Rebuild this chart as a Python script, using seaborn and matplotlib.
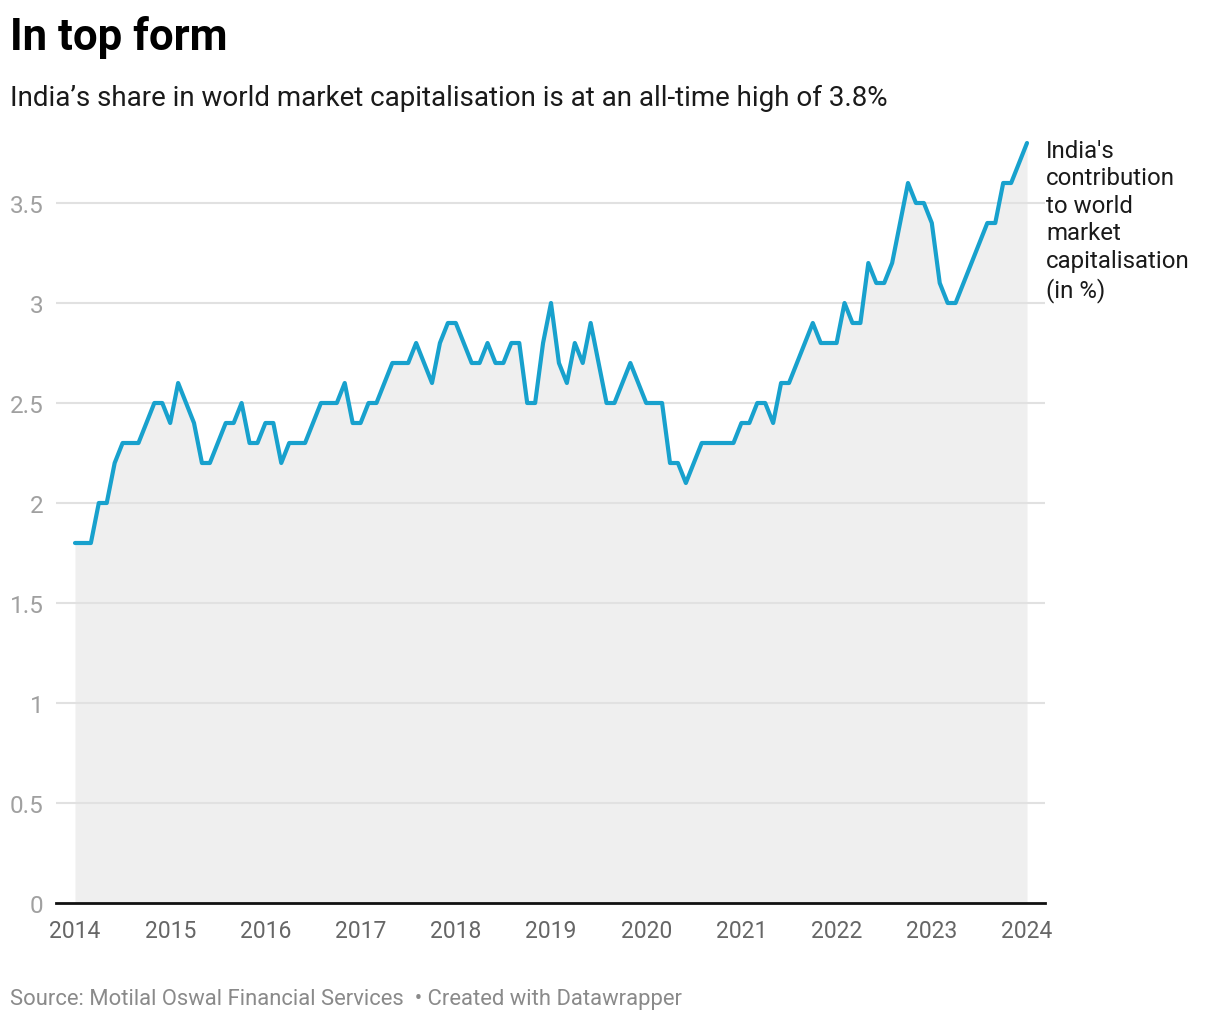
"""
In top form: India's share in world market capitalisation, 2014-2024
"""

import matplotlib
matplotlib.use("Agg")
import matplotlib.pyplot as plt
import seaborn as sns
import pandas as pd
import numpy as np

# monthly share of world market cap (%), Jan 2014 .. Jan 2024
share = [
    1.8, 1.8, 1.8, 2.0, 2.0, 2.2, 2.3, 2.3, 2.3, 2.4, 2.5, 2.5,   # 2014
    2.4, 2.6, 2.5, 2.4, 2.2, 2.2, 2.3, 2.4, 2.4, 2.5, 2.3, 2.3,   # 2015
    2.4, 2.4, 2.2, 2.3, 2.3, 2.3, 2.4, 2.5, 2.5, 2.5, 2.6, 2.4,   # 2016
    2.4, 2.5, 2.5, 2.6, 2.7, 2.7, 2.7, 2.8, 2.7, 2.6, 2.8, 2.9,   # 2017
    2.9, 2.8, 2.7, 2.7, 2.8, 2.7, 2.7, 2.8, 2.8, 2.5, 2.5, 2.8,   # 2018
    3.0, 2.7, 2.6, 2.8, 2.7, 2.9, 2.7, 2.5, 2.5, 2.6, 2.7, 2.6,   # 2019
    2.5, 2.5, 2.5, 2.2, 2.2, 2.1, 2.2, 2.3, 2.3, 2.3, 2.3, 2.3,   # 2020
    2.4, 2.4, 2.5, 2.5, 2.4, 2.6, 2.6, 2.7, 2.8, 2.9, 2.8, 2.8,   # 2021
    2.8, 3.0, 2.9, 2.9, 3.2, 3.1, 3.1, 3.2, 3.4, 3.6, 3.5, 3.5,   # 2022
    3.4, 3.1, 3.0, 3.0, 3.1, 3.2, 3.3, 3.4, 3.4, 3.6, 3.6, 3.7,   # 2023
    3.8,                                                          # 2024
]
months = pd.date_range("2014-01-01", "2024-01-01", freq="MS")
year_ticks = list(range(2014, 2025))
y_ticks = [0, 0.5, 1, 1.5, 2, 2.5, 3, 3.5]
y_labels = ["0", "0.5", "1", "1.5", "2", "2.5", "3", "3.5"]

df = pd.DataFrame({"date": months, "share": share})
df["year"] = df["date"].dt.year + (df["date"].dt.month - 1) / 12

sns.set_theme(style="white")
plt.rcParams["font.family"] = ["Roboto", "DejaVu Sans"]

W, H = 1220, 1020
fig = plt.figure(figsize=(W / 100, H / 100), dpi=100)
ax = fig.add_axes([56 / W, (H - 904) / H, (1045 - 56) / W, (904 - 124) / H])

line_color = "#18a1cd"
ax.fill_between(df["year"], 0, df["share"], color="#efefef", lw=0, zorder=1)
sns.lineplot(data=df, x="year", y="share", ax=ax, color=line_color,
             linewidth=3, zorder=3)

ax.set_xlim(2014 - 19 / 95.2, 2024 + 18 / 95.2)
ax.set_ylim(0, 3.9)

for v in y_ticks[1:]:
    ax.axhline(v, color="#e1e1e1", lw=1.5, zorder=2)

ax.set_yticks(y_ticks)
ax.set_yticklabels(y_labels)
ax.set_xticks(year_ticks)
ax.set_xticklabels([str(y) for y in year_ticks])
ax.tick_params(axis="y", length=0, pad=9, labelsize=17.5, labelcolor="#a0a0a0")
ax.tick_params(axis="x", length=0, pad=11.5, labelsize=16.5, labelcolor="#666666")
ax.set_xlabel("")
ax.set_ylabel("")

for side in ["top", "left", "right"]:
    ax.spines[side].set_visible(False)
ax.spines["bottom"].set_color("#111111")
ax.spines["bottom"].set_linewidth(2)
ax.spines["bottom"].set_zorder(4)

# titles
fig.text(10 / W, 1 - 50 / H, "In top form", fontsize=31.5, fontweight="bold",
         color="#000000", va="baseline", ha="left")
fig.text(10 / W, 1 - 106 / H,
         "India\u2019s share in world market capitalisation is at an all-time high of 3.8%",
         fontsize=20, color="#1a1a1a", va="baseline", ha="left")

# line label
fig.text(1046 / W, 1 - 140 / H,
         "India's\ncontribution\nto world\nmarket\ncapitalisation\n(in %)",
         fontsize=17.3, color="#1a1a1a", va="top", ha="left", linespacing=1.25)

fig.text(10 / W, 1 - 1005 / H,
         "Source: Motilal Oswal Financial Services  \u2022 Created with Datawrapper",
         fontsize=15.8, color="#8a8a8a", va="baseline", ha="left")

plt.savefig("out.png", dpi=100)
plt.close()
